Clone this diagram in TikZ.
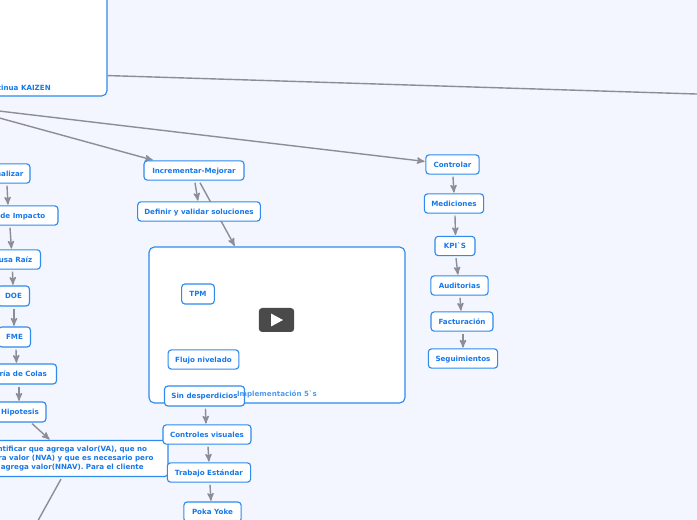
\documentclass[tikz,border=0pt]{standalone}
\usepackage{fontspec}
\setmainfont{DejaVu Sans}
\usetikzlibrary{arrows,backgrounds}
\definecolor{pagecol}{HTML}{F3F6FE}
\definecolor{boxcol}{HTML}{2F8BEE}
\definecolor{textcol}{HTML}{1878EA}
\definecolor{linkcol}{HTML}{8D8D96}
\definecolor{playcol}{HTML}{4A4A4A}

\begin{document}
\begin{tikzpicture}[x=0.75pt,y=-0.75pt,>=stealth',
  wide node/.style={rectangle,rounded corners=2.5pt,draw=boxcol,line width=0.85pt,fill=white,
    text=textcol,inner sep=0pt,align=center,font=\fontsize{5.35}{6.6}\selectfont\bfseries},
  main node/.style={wide node,text height=4pt,text depth=0pt},
  big node/.style={rectangle,rounded corners=4pt,draw=boxcol,line width=0.85pt,fill=white},
  caption node/.style={inner sep=0pt,font=\fontsize{5.35}{6.6}\selectfont\bfseries},
  link/.style={draw=linkcol,line width=1.05pt,shorten >=0.5pt},
  tip link/.style={link,->}]

  \clip (0,0) rectangle (697,520);

  % big boxes
  \node[big node,minimum width=115.5pt,minimum height=87pt] (kaizen) at (30,38) {};
  \node[big node,minimum width=192pt,minimum height=117pt] (video) at (277,325) {};
  \node[caption node,text=textcol,anchor=base east] (kaizentxt) at (51,90.5) {Continua KAIZEN};

  % left column
  \node[main node,minimum width=34.5pt,minimum height=14.5pt] (analizar) at (7,173.5) {Analizar};
  \node[main node,minimum width=78pt,minimum height=14.5pt] (impacto) at (6,215.5) {Análisis de Impacto};
  \node[main node,minimum width=45pt,minimum height=14.5pt] (raiz) at (10.5,259.5) {Causa Raíz};
  \node[main node,minimum width=24pt,minimum height=15pt] (doe) at (13.5,296) {DOE};
  \node[main node,minimum width=24pt,minimum height=15pt] (fme) at (14.5,337) {FME};
  \node[main node,minimum width=60pt,minimum height=15pt] (colas) at (16.5,374) {Teoría de Colas};
  \node[main node,minimum width=39pt,minimum height=15pt] (hipotesis) at (20,412) {Hipotesis};
  \node[wide node,minimum width=153pt,minimum height=27pt] (valor) at (66,458.5)
    {Identificar que agrega valor(VA), que no\\genera valor (NVA) y que es necesario pero\\no agrega valor(NNAV). Para el cliente};

  % middle column
  \node[main node,minimum width=75pt,minimum height=14.5pt] (mejorar) at (194,170.5) {Incrementar-Mejorar};
  \node[main node,minimum width=92pt,minimum height=14.5pt] (definir) at (199,211.5) {Definir y validar soluciones};
  \node[main node,minimum width=24.5pt,minimum height=15pt] (tpm) at (198,294) {TPM};
  \node[main node,minimum width=53pt,minimum height=14.5pt] (flujo) at (203.5,359.5) {Flujo nivelado};
  \node[main node,minimum width=60pt,minimum height=15pt] (sin) at (204.5,396) {Sin desperdicios};
  \node[caption node,text=boxcol!85!white] (impl) at (277,394) {Implementación 5\textasciigrave s};
  \node[main node,minimum width=66pt,minimum height=14.5pt] (visuales) at (207,434.5) {Controles visuales};
  \node[main node,minimum width=62.5pt,minimum height=14.5pt] (trabajo) at (209,472.5) {Trabajo Estándar};
  \node[main node,minimum width=43pt,minimum height=15pt] (poka) at (212.5,512) {Poka Yoke};

  % right column
  \node[main node,minimum width=40pt,minimum height=14.5pt] (controlar) at (452.5,164.5) {Controlar};
  \node[main node,minimum width=44.5pt,minimum height=14.5pt] (mediciones) at (454,203.5) {Mediciones};
  \node[main node,minimum width=30pt,minimum height=14.5pt] (kpi) at (455,246) {KPI\textasciigrave S};
  \node[main node,minimum width=43pt,minimum height=14.5pt] (auditorias) at (459.5,285.5) {Auditorias};
  \node[main node,minimum width=46.5pt,minimum height=14.5pt] (facturacion) at (462,321.5) {Facturación};
  \node[main node,minimum width=52pt,minimum height=14.5pt] (seguimientos) at (463,358.5) {Seguimientos};

  % play button
  \node[rectangle,rounded corners=2.5pt,fill=playcol,minimum width=26.5pt,minimum height=18pt,inner sep=0pt] (play) at (276.5,320) {};
  \fill[white] ([shift={(-5.5,-6.5)}]play.center) -- ([shift={(6.5,0)}]play.center) -- ([shift={(-5.5,6.5)}]play.center) -- cycle;

  \coordinate (root) at (-45,105.8);
  \coordinate (farright) at (760,96);
  \coordinate (down) at (30,535);

  \begin{pgfonlayer}{background}
    \fill[pagecol] (0,0) rectangle (697,520);

    \path[every edge/.append style={link}]
      ([shift={(0,-21)}]kaizen.south east) edge (farright)
      ([shift={(-5,2)}]valor.south) edge (down);

    \path[every edge/.append style={tip link}]
      (root) edge ([shift={(10,0)}]mejorar.north west)
      (root) edge ([shift={(0,-3)}]controlar.west)
      ([shift={(1,2)}]mejorar.south) edge ([shift={(-1,0)}]definir.north)
      ([shift={(6,2)}]mejorar.south) edge ([shift={(-42,0)}]video.north)
      ([shift={(0,2)}]analizar.south) edge ([shift={(2,0)}]impacto.north)
      ([shift={(4,2)}]impacto.south) edge ([shift={(1,0)}]raiz.north)
      ([shift={(2,2)}]raiz.south) edge ([shift={(-.5,0)}]doe.north)
      ([shift={(.5,2)}]doe.south) edge ([shift={(-.5,0)}]fme.north)
      ([shift={(1.5,2)}]fme.south) edge (colas.north)
      ([shift={(2.5,2)}]colas.south) edge ([shift={(-1,0)}]hipotesis.north)
      ([shift={(12,1)}]hipotesis.south) edge ([shift={(-16,0)}]valor.north)
      ([shift={(1,2)}]sin.south) edge ([shift={(-1,0)}]visuales.north)
      ([shift={(1,2)}]visuales.south) edge (trabajo.north)
      ([shift={(1,2)}]trabajo.south) edge ([shift={(-1.5,0)}]poka.north)
      ([shift={(.5,2)}]controlar.south) edge (mediciones.north)
      ([shift={(1,2)}]mediciones.south) edge ([shift={(.5,0)}]kpi.north)
      ([shift={(1,2)}]kpi.south) edge ([shift={(-1.5,0)}]auditorias.north)
      ([shift={(.5,2)}]auditorias.south) edge ([shift={(-1,0)}]facturacion.north)
      ([shift={(1,2)}]facturacion.south) edge (seguimientos.north);
  \end{pgfonlayer}
\end{tikzpicture}
\end{document}
